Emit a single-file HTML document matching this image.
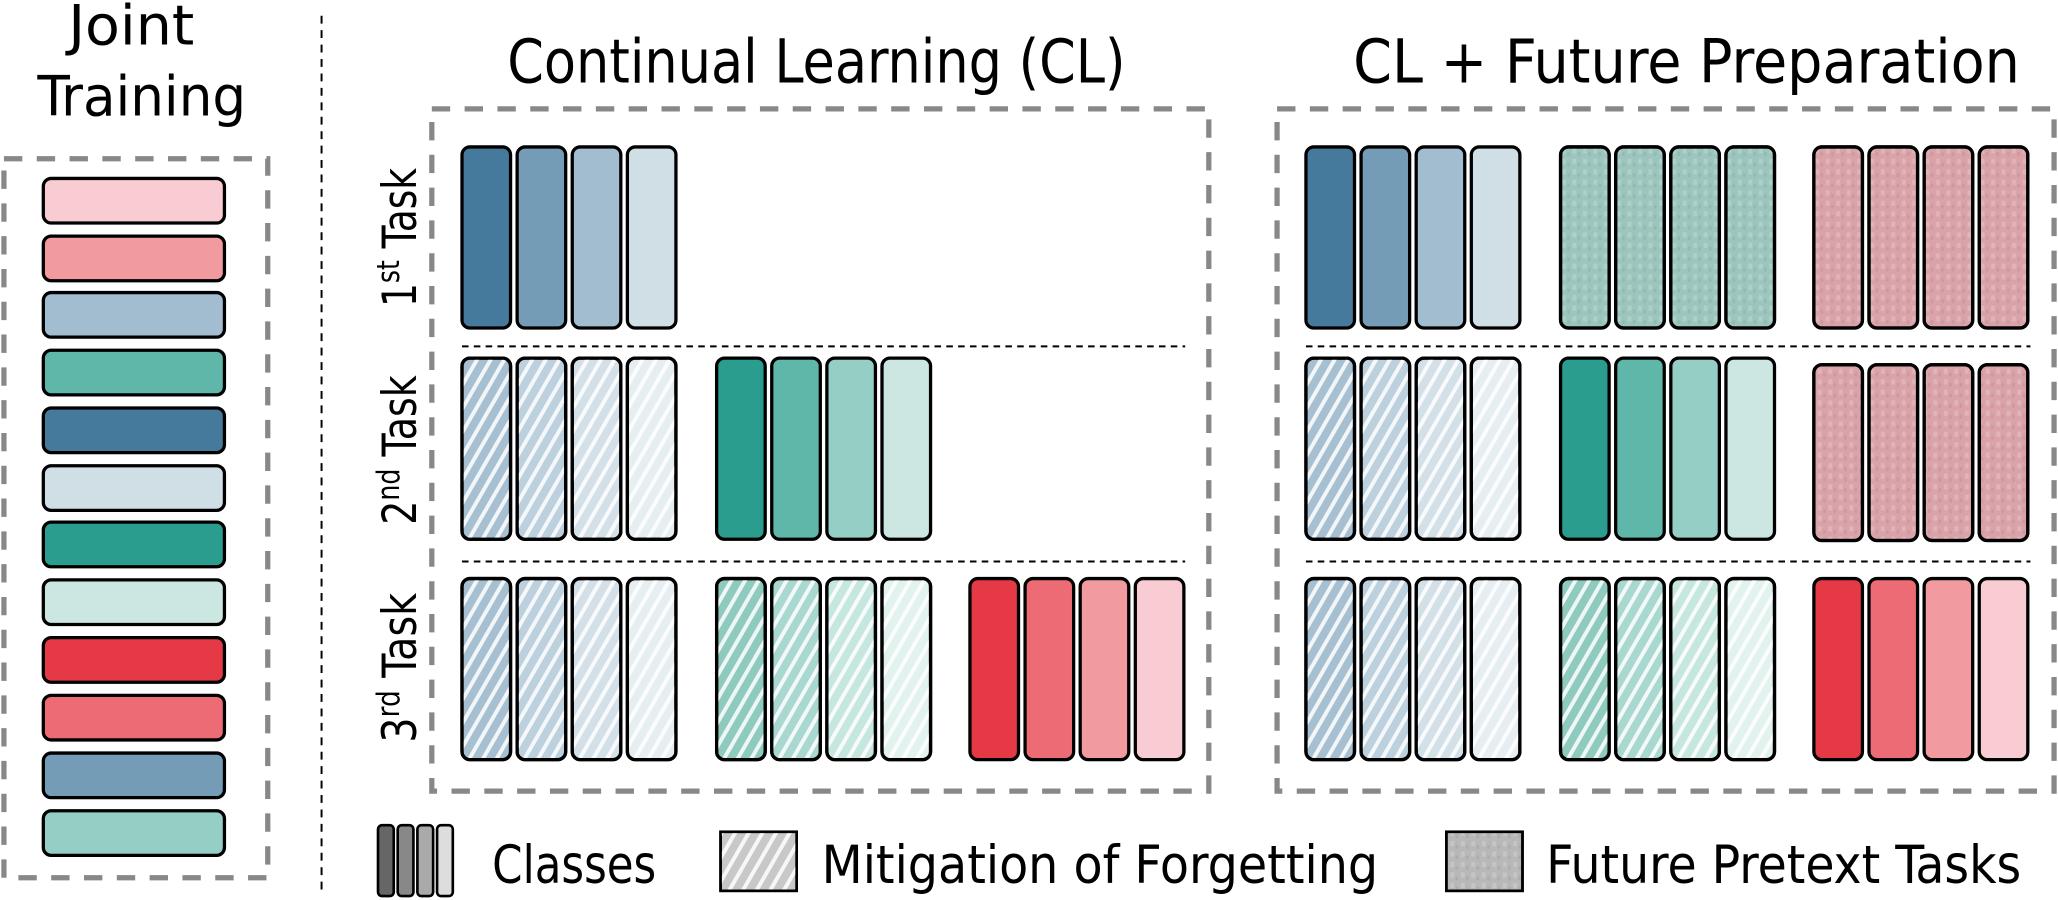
<!DOCTYPE html>
<html><head><meta charset="utf-8"><style>
html,body{margin:0;padding:0;background:#fff;}
svg{display:block;}
text{font-family:"DejaVu Sans Condensed","DejaVu Sans","Liberation Sans",sans-serif;fill:#000;}
</style></head><body>
<svg width="2058" height="900" viewBox="0 0 1568 686" preserveAspectRatio="none" xmlns="http://www.w3.org/2000/svg">
<defs>
<pattern id="hatch" width="9" height="9" patternUnits="userSpaceOnUse" patternTransform="rotate(30)">
<rect x="0" y="0" width="3" height="9" fill="#fff" fill-opacity="0.85"/>
</pattern>
<pattern id="dots" width="8" height="8" patternUnits="userSpaceOnUse">
<rect x="1" y="1" width="3" height="4" fill="#fff" fill-opacity="0.18"/>
<rect x="5" y="4" width="2" height="3" fill="#000" fill-opacity="0.06"/>
</pattern>
<g id="hov"><rect width="37" height="138" rx="6" fill="url(#hatch)" stroke="#000" stroke-width="2.5"/></g>
<g id="dov"><rect width="37" height="138" rx="6" fill="url(#dots)" stroke="#000" stroke-width="2.5"/></g>
</defs>
<rect width="1568" height="686" fill="#fff"/>

<!-- titles -->
<text x="100" y="34" font-size="42" text-anchor="middle" textLength="96" lengthAdjust="spacingAndGlyphs">Joint</text>
<text x="108" y="88" font-size="42" text-anchor="middle" textLength="159" lengthAdjust="spacingAndGlyphs">Training</text>
<text x="622" y="63" font-size="46" text-anchor="middle" textLength="471" lengthAdjust="spacingAndGlyphs">Continual Learning (CL)</text>
<text x="1285" y="63" font-size="46" text-anchor="middle" textLength="508" lengthAdjust="spacingAndGlyphs">CL + Future Preparation</text>

<line x1="245" y1="12" x2="245" y2="682" stroke="#000" stroke-width="1.5" stroke-dasharray="6,5"/>

<!-- joint box -->
<rect x="3" y="121" width="201" height="548" fill="none" stroke="#888" stroke-width="4" stroke-dasharray="14,11"/>
<g stroke="#000" stroke-width="2.5">
<rect x="33" y="136" width="138" height="34" rx="6" fill="#f9ccd3"/>
<rect x="33" y="180" width="138" height="34" rx="6" fill="#f19ba0"/>
<rect x="33" y="223" width="138" height="34" rx="6" fill="#a3bdd0"/>
<rect x="33" y="267" width="138" height="34" rx="6" fill="#5fb7a9"/>
<rect x="33" y="311" width="138" height="34" rx="6" fill="#467a9c"/>
<rect x="33" y="355" width="138" height="34" rx="6" fill="#d0dee6"/>
<rect x="33" y="398" width="138" height="34" rx="6" fill="#2a9d8e"/>
<rect x="33" y="442" width="138" height="34" rx="6" fill="#cce6e1"/>
<rect x="33" y="486" width="138" height="34" rx="6" fill="#e63946"/>
<rect x="33" y="530" width="138" height="34" rx="6" fill="#ed6b74"/>
<rect x="33" y="574" width="138" height="34" rx="6" fill="#749cb6"/>
<rect x="33" y="618" width="138" height="34" rx="6" fill="#94cec4"/>
</g>

<!-- CL boxes -->
<rect x="329" y="83" width="592" height="520" fill="none" stroke="#888" stroke-width="4" stroke-dasharray="14,11"/>
<rect x="973" y="83" width="592" height="520" fill="none" stroke="#888" stroke-width="4" stroke-dasharray="14,11"/>
<g stroke="#000" stroke-width="1.5" stroke-dasharray="5,4">
<line x1="352" y1="264" x2="903" y2="264"/><line x1="352" y1="428" x2="903" y2="428"/>
<line x1="995" y1="264" x2="1547" y2="264"/><line x1="995" y1="428" x2="1547" y2="428"/>
</g>

<!-- row labels -->
<text transform="translate(317,181) rotate(-90)" font-size="36" text-anchor="middle" textLength="106" lengthAdjust="spacingAndGlyphs">1<tspan font-size="24" dy="-13">st</tspan><tspan dy="13"> Task</tspan></text>
<text transform="translate(317,343) rotate(-90)" font-size="36" text-anchor="middle" textLength="114" lengthAdjust="spacingAndGlyphs">2<tspan font-size="24" dy="-13">nd</tspan><tspan dy="13"> Task</tspan></text>
<text transform="translate(317,509) rotate(-90)" font-size="36" text-anchor="middle" textLength="114" lengthAdjust="spacingAndGlyphs">3<tspan font-size="24" dy="-13">rd</tspan><tspan dy="13"> Task</tspan></text>

<g stroke="#000" stroke-width="2.5">
<!-- CL row1 -->
<rect x="352" y="112" width="37" height="138" rx="6" fill="#467a9c"/>
<rect x="394" y="112" width="37" height="138" rx="6" fill="#749cb6"/>
<rect x="436" y="112" width="37" height="138" rx="6" fill="#a3bdd0"/>
<rect x="478" y="112" width="37" height="138" rx="6" fill="#d0dee6"/>
<!-- CL row2 -->
<rect x="352" y="273" width="37" height="138" rx="6" fill="#a6c0d2"/>
<rect x="394" y="273" width="37" height="138" rx="6" fill="#bcd0de"/>
<rect x="436" y="273" width="37" height="138" rx="6" fill="#d3e0e8"/>
<rect x="478" y="273" width="37" height="138" rx="6" fill="#e6eef2"/>
<rect x="546" y="273" width="37" height="138" rx="6" fill="#2a9d8e"/>
<rect x="588" y="273" width="37" height="138" rx="6" fill="#5fb7a9"/>
<rect x="630" y="273" width="37" height="138" rx="6" fill="#94cec4"/>
<rect x="672" y="273" width="37" height="138" rx="6" fill="#cce6e1"/>
<!-- CL row3 -->
<rect x="352" y="441" width="37" height="138" rx="6" fill="#a6c0d2"/>
<rect x="394" y="441" width="37" height="138" rx="6" fill="#bcd0de"/>
<rect x="436" y="441" width="37" height="138" rx="6" fill="#d3e0e8"/>
<rect x="478" y="441" width="37" height="138" rx="6" fill="#e6eef2"/>
<rect x="546" y="441" width="37" height="138" rx="6" fill="#8fcabf"/>
<rect x="588" y="441" width="37" height="138" rx="6" fill="#a8d8cf"/>
<rect x="630" y="441" width="37" height="138" rx="6" fill="#c6e6e0"/>
<rect x="672" y="441" width="37" height="138" rx="6" fill="#e2f2ef"/>
<rect x="739" y="441" width="37" height="138" rx="6" fill="#e63946"/>
<rect x="781" y="441" width="37" height="138" rx="6" fill="#ed6b74"/>
<rect x="823" y="441" width="37" height="138" rx="6" fill="#f19ba0"/>
<rect x="865" y="441" width="37" height="138" rx="6" fill="#f9ccd3"/>

<!-- CLFP row1 -->
<rect x="995" y="112" width="37" height="138" rx="6" fill="#467a9c"/>
<rect x="1037" y="112" width="37" height="138" rx="6" fill="#749cb6"/>
<rect x="1079" y="112" width="37" height="138" rx="6" fill="#a3bdd0"/>
<rect x="1121" y="112" width="37" height="138" rx="6" fill="#d0dee6"/>
<rect x="1189" y="112" width="37" height="138" rx="6" fill="#9cc5be"/>
<rect x="1231" y="112" width="37" height="138" rx="6" fill="#9cc5be"/>
<rect x="1273" y="112" width="37" height="138" rx="6" fill="#9cc5be"/>
<rect x="1315" y="112" width="37" height="138" rx="6" fill="#9cc5be"/>
<rect x="1382" y="112" width="37" height="138" rx="6" fill="#d9a3a9"/>
<rect x="1424" y="112" width="37" height="138" rx="6" fill="#d9a3a9"/>
<rect x="1466" y="112" width="37" height="138" rx="6" fill="#d9a3a9"/>
<rect x="1508" y="112" width="37" height="138" rx="6" fill="#d9a3a9"/>
<!-- CLFP row2 -->
<rect x="995" y="273" width="37" height="138" rx="6" fill="#a6c0d2"/>
<rect x="1037" y="273" width="37" height="138" rx="6" fill="#bcd0de"/>
<rect x="1079" y="273" width="37" height="138" rx="6" fill="#d3e0e8"/>
<rect x="1121" y="273" width="37" height="138" rx="6" fill="#e6eef2"/>
<rect x="1189" y="273" width="37" height="138" rx="6" fill="#2a9d8e"/>
<rect x="1231" y="273" width="37" height="138" rx="6" fill="#5fb7a9"/>
<rect x="1273" y="273" width="37" height="138" rx="6" fill="#94cec4"/>
<rect x="1315" y="273" width="37" height="138" rx="6" fill="#cce6e1"/>
<rect x="1382" y="278" width="37" height="134" rx="6" fill="#d9a3a9"/>
<rect x="1424" y="278" width="37" height="134" rx="6" fill="#d9a3a9"/>
<rect x="1466" y="278" width="37" height="134" rx="6" fill="#d9a3a9"/>
<rect x="1508" y="278" width="37" height="134" rx="6" fill="#d9a3a9"/>
<!-- CLFP row3 -->
<rect x="995" y="441" width="37" height="138" rx="6" fill="#a6c0d2"/>
<rect x="1037" y="441" width="37" height="138" rx="6" fill="#bcd0de"/>
<rect x="1079" y="441" width="37" height="138" rx="6" fill="#d3e0e8"/>
<rect x="1121" y="441" width="37" height="138" rx="6" fill="#e6eef2"/>
<rect x="1189" y="441" width="37" height="138" rx="6" fill="#8fcabf"/>
<rect x="1231" y="441" width="37" height="138" rx="6" fill="#a8d8cf"/>
<rect x="1273" y="441" width="37" height="138" rx="6" fill="#c6e6e0"/>
<rect x="1315" y="441" width="37" height="138" rx="6" fill="#e2f2ef"/>
<rect x="1382" y="441" width="37" height="138" rx="6" fill="#e63946"/>
<rect x="1424" y="441" width="37" height="138" rx="6" fill="#ed6b74"/>
<rect x="1466" y="441" width="37" height="138" rx="6" fill="#f19ba0"/>
<rect x="1508" y="441" width="37" height="138" rx="6" fill="#f9ccd3"/>
</g>

<!-- overlays -->
<g>
<use href="#hov" x="352" y="273"/><use href="#hov" x="394" y="273"/><use href="#hov" x="436" y="273"/><use href="#hov" x="478" y="273"/>
<use href="#hov" x="352" y="441"/><use href="#hov" x="394" y="441"/><use href="#hov" x="436" y="441"/><use href="#hov" x="478" y="441"/>
<use href="#hov" x="546" y="441"/><use href="#hov" x="588" y="441"/><use href="#hov" x="630" y="441"/><use href="#hov" x="672" y="441"/>
<use href="#hov" x="995" y="273"/><use href="#hov" x="1037" y="273"/><use href="#hov" x="1079" y="273"/><use href="#hov" x="1121" y="273"/>
<use href="#hov" x="995" y="441"/><use href="#hov" x="1037" y="441"/><use href="#hov" x="1079" y="441"/><use href="#hov" x="1121" y="441"/>
<use href="#hov" x="1189" y="441"/><use href="#hov" x="1231" y="441"/><use href="#hov" x="1273" y="441"/><use href="#hov" x="1315" y="441"/>
<use href="#dov" x="1189" y="112"/><use href="#dov" x="1231" y="112"/><use href="#dov" x="1273" y="112"/><use href="#dov" x="1315" y="112"/>
<use href="#dov" x="1382" y="112"/><use href="#dov" x="1424" y="112"/><use href="#dov" x="1466" y="112"/><use href="#dov" x="1508" y="112"/>
</g>
<g stroke="#000" stroke-width="2.5" fill="url(#dots)">
<rect x="1382" y="278" width="37" height="134" rx="6"/><rect x="1424" y="278" width="37" height="134" rx="6"/>
<rect x="1466" y="278" width="37" height="134" rx="6"/><rect x="1508" y="278" width="37" height="134" rx="6"/>
</g>

<!-- legend -->
<g stroke="#000" stroke-width="2">
<rect x="288" y="629" width="12" height="54" rx="3" fill="#666"/>
<rect x="303" y="629" width="12" height="54" rx="3" fill="#888"/>
<rect x="318" y="629" width="12" height="54" rx="3" fill="#aaa"/>
<rect x="333" y="629" width="12" height="54" rx="3" fill="#ddd"/>
<rect x="549" y="634" width="58" height="45" fill="#c8c8c8"/>
<rect x="1102" y="634" width="58" height="45" fill="#b8b8b8"/>
</g>
<rect x="549" y="634" width="58" height="45" fill="url(#hatch)" stroke="#000" stroke-width="2"/>
<rect x="1102" y="634" width="58" height="45" fill="url(#dots)" stroke="#000" stroke-width="2"/>
<text x="375" y="673" font-size="40" textLength="125" lengthAdjust="spacingAndGlyphs">Classes</text>
<text x="626" y="673" font-size="40" textLength="424" lengthAdjust="spacingAndGlyphs">Mitigation of Forgetting</text>
<text x="1178" y="673" font-size="40" textLength="362" lengthAdjust="spacingAndGlyphs">Future Pretext Tasks</text>
</svg>
</body></html>
